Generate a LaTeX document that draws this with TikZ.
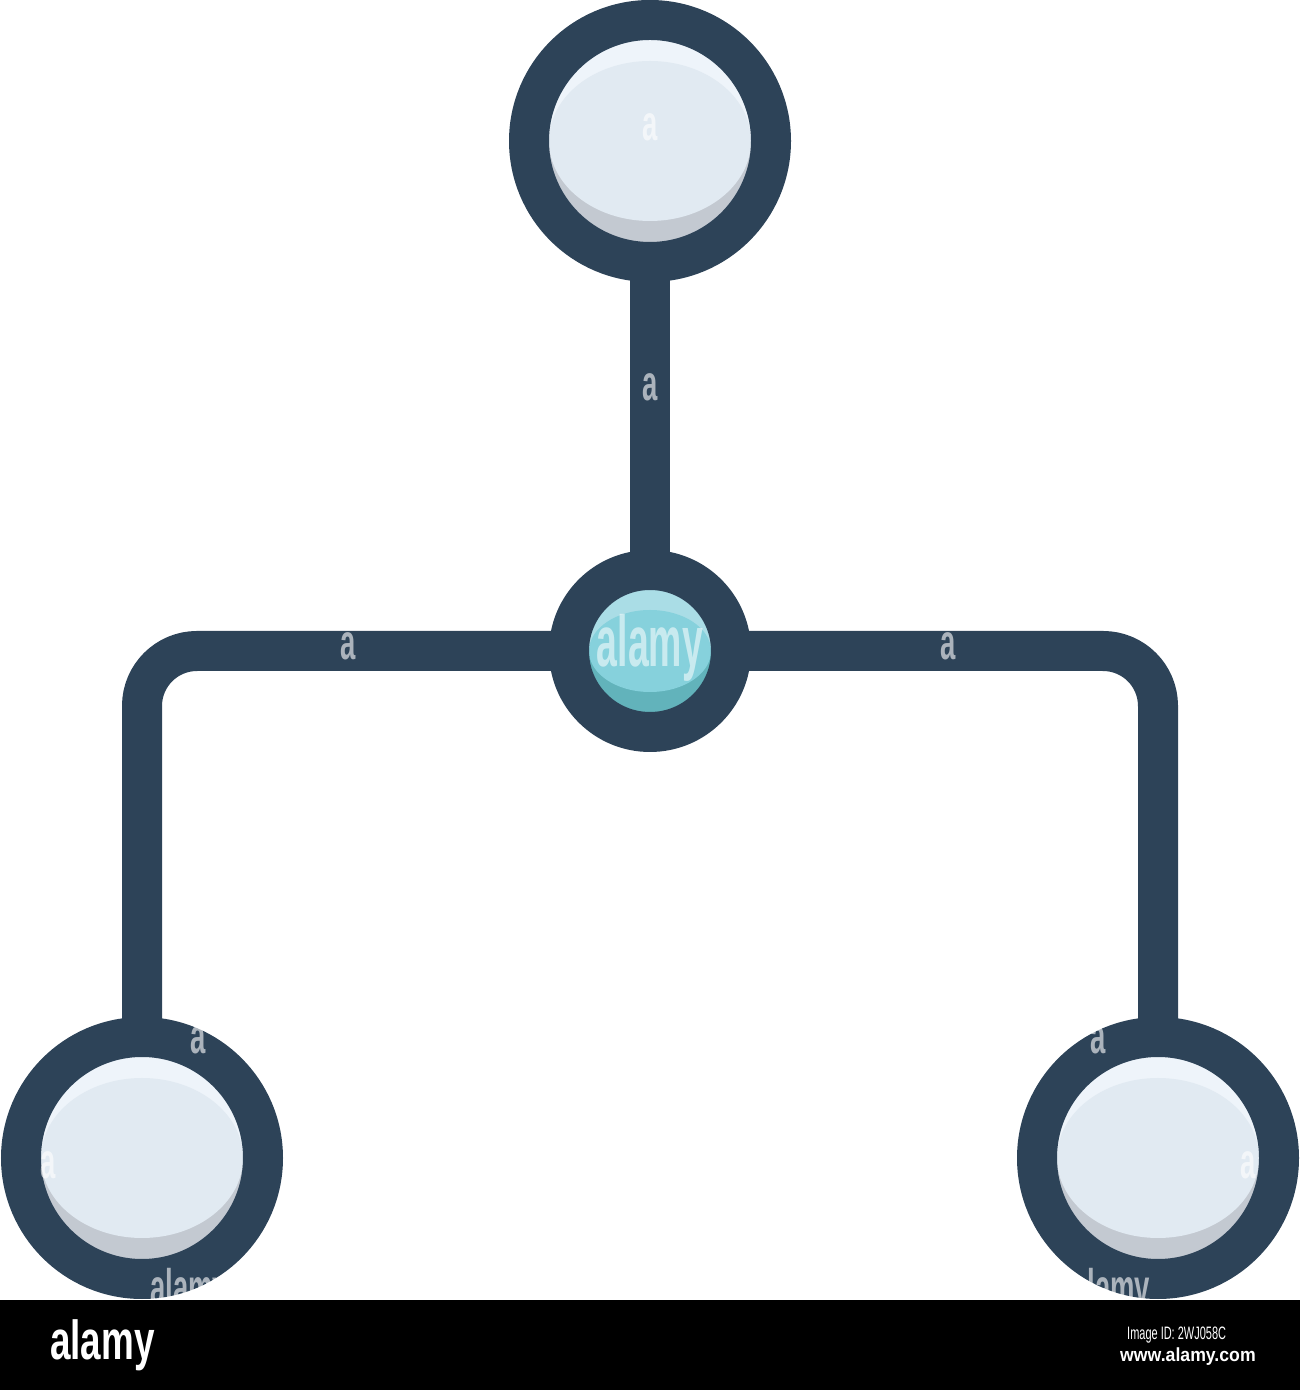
\documentclass[tikz,border=0pt]{standalone}
\usepackage{fontspec}
\setmainfont{Liberation Sans}
\usetikzlibrary{backgrounds}
\definecolor{ring}{HTML}{2D4358}
\definecolor{gmain}{HTML}{E1EAF2}
\definecolor{ghl}{HTML}{EEF4FA}
\definecolor{gsh}{HTML}{C3C9D1}
\definecolor{tmain}{HTML}{86D1DC}
\definecolor{thl}{HTML}{AADDE6}
\definecolor{tsh}{HTML}{62B3BB}
\tikzset{
  bignode/.style={circle, draw=ring, line width=40pt, minimum size=242pt, inner sep=0pt, fill=gmain,
    path picture={
      \fill[ghl] (path picture bounding box.center) ++(-160,0) rectangle ++(320,160);
      \fill[gsh] (path picture bounding box.center) ++(-160,0) rectangle ++(320,-160);
      \fill[gmain] (path picture bounding box.center) ellipse [x radius=101, y radius=80];
    }},
  hubnode/.style={circle, draw=ring, line width=40pt, minimum size=162pt, inner sep=0pt, fill=tmain,
    path picture={
      \fill[thl] (path picture bounding box.center) ++(-100,0) rectangle ++(200,100);
      \fill[tsh] (path picture bounding box.center) ++(-100,0) rectangle ++(200,-100);
      \fill[tmain] (path picture bounding box.center) ellipse [x radius=61, y radius=41];
    }},
  conn/.style={draw=ring, line width=40pt},
  wm/.style={text=white, opacity=0.6, inner sep=0pt, font=\bfseries\fontsize{50}{50}\selectfont},
  barlogo/.style={text=white, inner sep=0pt, anchor=base west},
}
\begin{document}
\begin{tikzpicture}[x=1pt,y=1pt]
\useasboundingbox (0,0) rectangle (1300,1390);
% nodes
\node[bignode] (top) at (650,1249) {};
\node[hubnode] (mid) at (650,739) {};
\node[bignode] (bl) at (142,232) {};
\node[bignode] (br) at (1158,232) {};
% connectors
\begin{scope}[on background layer]
  \draw[conn] (top.center) -- (mid.center);
  \draw[conn, rounded corners=55pt] (bl.center) |- (mid.center) -| (br.center);
\end{scope}
% watermark
\foreach \p [count=\i] in {(650,1263),(650,1003),(348,744),(948,744),(198,350),(1098,350),(48,225),(1248,225)}
  \node[wm] (wa\i) at \p {\scalebox{0.55}[1]{a}};
\node[wm, opacity=0.55, font=\bfseries\fontsize{72}{72}\selectfont, anchor=base] (wmid) at (650,723) {\scalebox{0.52}[1]{alamy}};
\node[wm, anchor=base west] (wbl) at (150,85) {\scalebox{0.55}[1]{alamy}};
\node[wm, anchor=base west] (wbr) at (1072,85) {\scalebox{0.55}[1]{alamy}};
% bottom bar
\fill[black] (0,0) rectangle (1300,90);
\node[barlogo, font=\bfseries\fontsize{55}{55}\selectfont] (logo) at (50,30) {\scalebox{0.67}[1]{alamy}};
\node[barlogo, font=\fontsize{18}{18}\selectfont] (imgid) at (1127,50) {\scalebox{0.61}[1]{Image ID: 2WJ058C}};
\node[barlogo, font=\bfseries\fontsize{19}{19}\selectfont] (url) at (1120,28) {\scalebox{0.93}[1]{www.alamy.com}};
\end{tikzpicture}
\end{document}
